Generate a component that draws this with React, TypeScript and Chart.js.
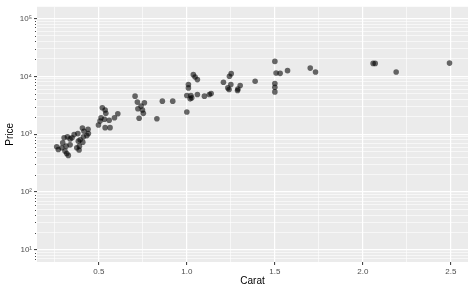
import React, { useEffect, useRef } from "react";
import { Chart, registerables } from "chart.js";

Chart.register(...registerables);

// ---- data ----
const carat = [
  0.261, 0.27, 0.29, 0.295, 0.303, 0.308, 0.314, 0.318, 0.322, 0.327,
  0.337, 0.337, 0.348, 0.36, 0.375, 0.381, 0.384, 0.39, 0.394, 0.407,
  0.409, 0.413, 0.416, 0.432, 0.439, 0.441, 0.388,
  0.498, 0.507, 0.513, 0.532, 0.52, 0.536, 0.54, 0.559, 0.589, 0.608,
  0.536, 0.564,
  0.706, 0.719, 0.759, 0.74, 0.722, 0.748, 0.753, 0.729, 0.83, 0.861,
  0.92, 1.0,
  1.037, 1.047, 1.06, 1.009, 1.009, 1.0, 1.023, 1.028, 1.019, 1.06,
  1.1, 1.128, 1.138, 1.208, 1.242, 1.252, 1.25, 1.233, 1.24, 1.29,
  1.288, 1.303, 1.388, 1.5, 1.507, 1.53, 1.572, 1.5, 1.5, 1.5,
  1.701, 1.731, 2.058, 2.07, 2.189, 2.492,
];
const price = [
  606, 544, 582, 709, 864, 511, 622, 465, 899, 430,
  830, 655, 864, 985, 582, 1024, 759, 622, 798, 1283,
  729, 899, 1125, 946, 1218, 1024, 532,
  1445, 1692, 1927, 1808, 2860, 2612, 2291, 1738, 1927, 2255,
  1298, 1298,
  4540, 3581, 3483, 3055, 2748, 2612, 2291, 1881, 1852, 3724,
  3724, 2415,
  10690, 9730, 8770, 7210, 6300, 4670, 4670, 4246, 4080, 4855,
  4540, 4855, 5050, 7890, 10000, 11120, 7210, 6300, 5915, 6050,
  5690, 6920, 8200, 18080, 11400, 11250, 12530, 7500, 6470, 5380,
  13870, 11850, 16710, 16710, 11850, 16900,
];

const xMajorTicks = [0.5, 1.0, 1.5, 2.0, 2.5];
const xMinorTicks = [0.25, 0.75, 1.25, 1.75, 2.25];
const yExponents = [0, 1, 2, 3, 4, 5];
const yMinorSignificands = [2, 3, 4, 5, 6, 7, 8, 9];
const superscripts = ["⁰", "¹", "²", "³", "⁴", "⁵", "⁶", "⁷", "⁸", "⁹"];

const X_MIN = 0.149;
const X_MAX = 2.597;
const Y_MIN = 6.2;
const Y_MAX = 158700;

const yTickValues: { value: number; major: boolean }[] = [];
yExponents.forEach((e) => {
  const base = Math.pow(10, e);
  if (base >= Y_MIN && base <= Y_MAX) yTickValues.push({ value: base, major: true });
  yMinorSignificands.forEach((s) => {
    const v = s * base;
    if (v >= Y_MIN && v <= Y_MAX) yTickValues.push({ value: v, major: false });
  });
});
yTickValues.sort((a, b) => a.value - b.value);

const xTickValues = [...xMajorTicks, ...xMinorTicks]
  .sort((a, b) => a - b)
  .map((v) => ({ value: v, major: xMajorTicks.includes(v) }));

const isXMajor = (v: number) => xMajorTicks.some((m) => Math.abs(m - v) < 1e-6);
const isYMajor = (v: number) => {
  const l = Math.log10(v);
  return Math.abs(l - Math.round(l)) < 1e-6;
};

const panelPlugin = {
  id: "panelBg",
  beforeDraw(chart: any) {
    const { ctx, chartArea, width, height } = chart;
    ctx.save();
    ctx.fillStyle = "#ffffff";
    ctx.fillRect(0, 0, width, height);
    ctx.fillStyle = "#EBEBEB";
    ctx.fillRect(chartArea.left, chartArea.top, chartArea.right - chartArea.left, chartArea.bottom - chartArea.top);
    ctx.restore();
  },
  afterDraw(chart: any) {
    const { ctx, chartArea } = chart;
    const y = chart.scales.y;
    ctx.save();
    ctx.strokeStyle = "#444";
    ctx.lineWidth = 1;
    yTickValues.forEach((t) => {
      if (t.major) return;
      const py = Math.round(y.getPixelForValue(t.value)) + 0.5;
      ctx.beginPath();
      ctx.moveTo(chartArea.left - 2, py);
      ctx.lineTo(chartArea.left - 1, py);
      ctx.stroke();
    });
    ctx.restore();
  },
};

export default function App() {
  const ref = useRef<HTMLCanvasElement | null>(null);

  useEffect(() => {
    if (!ref.current) return;
    const points = carat.map((c, i) => ({ x: c, y: price[i] }));
    const chart = new Chart(ref.current, {
      type: "scatter",
      data: {
        datasets: [
          {
            data: points,
            backgroundColor: "rgba(0,0,0,0.58)",
            borderWidth: 0,
            pointRadius: 2.8,
            pointHoverRadius: 2.8,
          },
        ],
      },
      plugins: [panelPlugin],
      options: {
        animation: false,
        responsive: false,
        maintainAspectRatio: false,
        devicePixelRatio: 1,
        layout: { padding: { top: 5, right: 6, left: 0, bottom: 0 } },
        plugins: {
          legend: { display: false },
          tooltip: { enabled: false },
        },
        scales: {
          x: {
            type: "linear",
            position: "bottom",
            min: X_MIN,
            max: X_MAX,
            afterBuildTicks: (s: any) => {
              s.ticks = xTickValues.map((t) => ({ value: t.value }));
            },
            afterFit: (s: any) => {
              s.height = 30;
            },
            border: { display: false },
            grid: {
              color: "#ffffff",
              lineWidth: (c: any) => (c.tick && isXMajor(c.tick.value) ? 1.2 : 0.6),
              drawTicks: true,
              tickLength: 3,
              tickColor: (c: any) => (c.tick && isXMajor(c.tick.value) ? "#333333" : "rgba(0,0,0,0)"),
              tickWidth: 1,
            },
            ticks: {
              autoSkip: false,
              maxRotation: 0,
              padding: 2,
              color: "#4D4D4D",
              font: { family: "'Liberation Sans', Arial, sans-serif", size: 8 },
              callback: (v: any) => (isXMajor(Number(v)) ? Number(v).toFixed(1) : ""),
            },
            title: {
              display: true,
              text: "Carat",
              color: "#000000",
              font: { family: "'Liberation Sans', Arial, sans-serif", size: 10 },
              padding: { top: 0, bottom: 5 },
            },
          },
          y: {
            type: "logarithmic",
            position: "left",
            min: Y_MIN,
            max: Y_MAX,
            afterBuildTicks: (s: any) => {
              s.ticks = yTickValues.map((t) => ({ value: t.value }));
            },
            afterFit: (s: any) => {
              s.width = 37;
            },
            border: { display: false },
            grid: {
              color: "#ffffff",
              lineWidth: (c: any) => (c.tick && isYMajor(c.tick.value) ? 1.2 : 0.6),
              drawTicks: true,
              tickLength: 3,
              tickColor: (c: any) => (c.tick && isYMajor(c.tick.value) ? "#333333" : "rgba(0,0,0,0)"),
              tickWidth: 1,
            },
            ticks: {
              autoSkip: false,
              padding: 2,
              color: "#4D4D4D",
              font: { family: "'Liberation Sans', Arial, sans-serif", size: 8 },
              callback: (v: any) => {
                const n = Number(v);
                if (!isYMajor(n)) return "";
                const e = Math.round(Math.log10(n));
                return "10" + String(e).split("").map((d) => superscripts[Number(d)]).join("");
              },
            },
            title: {
              display: true,
              text: "Price",
              color: "#000000",
              font: { family: "'Liberation Sans', Arial, sans-serif", size: 10 },
              padding: { top: 4, bottom: 0 },
            },
          },
        },
      },
    });
    return () => chart.destroy();
  }, []);

  return (
    <div style={{ position: "fixed", left: 0, top: 0, width: 474, height: 292, background: "#fff" }}>
      <canvas ref={ref} width={474} height={292} style={{ display: "block", width: 474, height: 292 }} />
    </div>
  );
}
